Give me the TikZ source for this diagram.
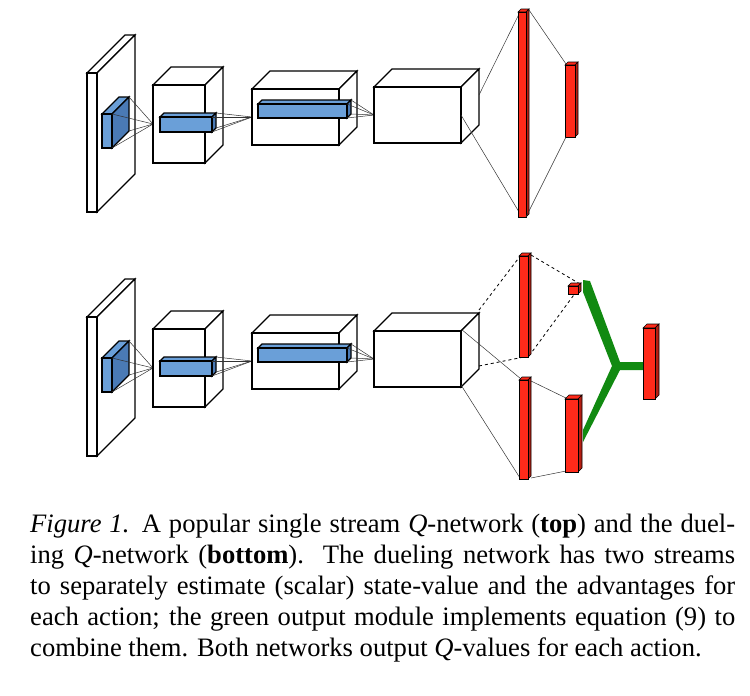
\documentclass[tikz,border=0pt]{standalone}
\usepackage{fontspec}
\setmainfont{Liberation Serif}
\definecolor{bfront}{HTML}{6A9FD8}
\definecolor{bside}{HTML}{4A7AB5}
\definecolor{rfront}{HTML}{FF2A1A}
\definecolor{rside}{HTML}{B51E12}
\definecolor{gr}{HTML}{118A11}
\newcommand\prism[7]{%
 \filldraw[fill=#6] (#1,#2) -- ({#1+#5},{#2-#5}) -- ({#3+#5},{#2-#5}) -- (#3,#2) -- cycle;
 \filldraw[fill=#7] (#3,#2) -- ({#3+#5},{#2-#5}) -- ({#3+#5},{#4-#5}) -- (#3,#4) -- cycle;
 \filldraw[fill=#6] (#1,#2) rectangle (#3,#4);}
\newcommand\convnet[1]{%
 \begin{scope}[yshift={-#1pt}]
 \begin{scope}[box]
 \prism{87}{73}{97}{212}{38}{white}{white}
 \prism{102}{114}{112}{148}{17}{bfront}{bside}
 \end{scope}
 \foreach \p in {(129,97),(112,114),(112,148),(129,131)} \draw[thin] \p -- (153,124);
 \begin{scope}[box]
 \prism{153}{85}{205}{163}{18}{white}{white}
 \prism{160}{117}{212}{132}{4}{bfront}{bside}
 \end{scope}
 \foreach \p in {(216,113),(216,128),(212,132),(212,117)} \draw[thin] \p -- (252,117);
 \begin{scope}[box]
 \prism{252}{89}{339}{145}{18}{white}{white}
 \prism{258}{104}{347}{118}{4}{bfront}{bside}
 \end{scope}
 \foreach \p in {(351,100),(351,114),(347,118),(347,104)} \draw[thin] \p -- (374,115);
 \begin{scope}[box]
 \prism{374}{87}{461}{143}{18}{white}{white}
 \end{scope}
 \end{scope}}
\begin{document}
\begin{tikzpicture}[x=1pt,y=-1pt,box/.style={line width=1.1pt,line join=miter},
 thin/.style={line width=0.5pt,draw=black!80},redbar/.style={line width=0.6pt}]
\useasboundingbox (0,0) rectangle (750,696);
% top network
\convnet{0}
\draw[thin] (479,95) -- (520,12);
\draw[thin] (461,115) -- (522,217);
\begin{scope}[redbar]
\prism{518}{12}{526}{217}{3}{rfront}{rside}
\prism{565}{65}{575}{137}{3}{rfront}{rside}
\end{scope}
\draw[thin] (529,10) -- (566,64);
\draw[thin] (526,217) -- (566,137);
% bottom network
\convnet{244}
\begin{scope}[line width=0.8pt,dashed]
\draw (479,310) -- (521,255);
\draw (479,366) -- (529,356);
\draw (531,255) -- (580,284);
\draw (529,356) -- (576,292);
\end{scope}
\draw[thin] (461,329) -- (521,379);
\draw[thin] (461,385) -- (520,478);
\draw[thin] (531,381) -- (566,398);
\draw[thin] (531,478) -- (566,471);
\begin{scope}[redbar]
\prism{519}{256}{528}{357}{3}{rfront}{rside}
\prism{519}{380}{528}{479}{3}{rfront}{rside}
\prism{568}{286}{578}{294}{3}{rfront}{rside}
\prism{565}{399}{578}{472}{4}{rfront}{rside}
\prism{643}{328}{655}{399}{4}{rfront}{rside}
\end{scope}
\fill[gr] (583,280) -- (590,281) -- (620,362) -- (643,362) -- (643,370) -- (620,370) -- (583,442) -- (583,430) -- (612,366) -- (583,292) -- cycle;
% caption
\begin{scope}[every node/.style={anchor=base west,inner sep=0pt,font=\fontsize{26.6}{30}\selectfont}]
\node at (30,532) {\makebox[705pt][s]{\textit{Figure 1.} A popular single stream \textit{Q}-network (\textbf{top}) and the duel-}};
\node at (30,563) {\makebox[705pt][s]{ing \textit{Q}-network (\textbf{bottom}).\ \ The dueling network has two streams}};
\node at (30,594) {\makebox[705pt][s]{to separately estimate (scalar) state-value and the advantages for}};
\node at (30,625) {\makebox[705pt][s]{each action; the green output module implements equation (9) to}};
\node at (30,656) {combine them. Both networks output \textit{Q}-values for each action.};
\end{scope}
\end{tikzpicture}
\end{document}
